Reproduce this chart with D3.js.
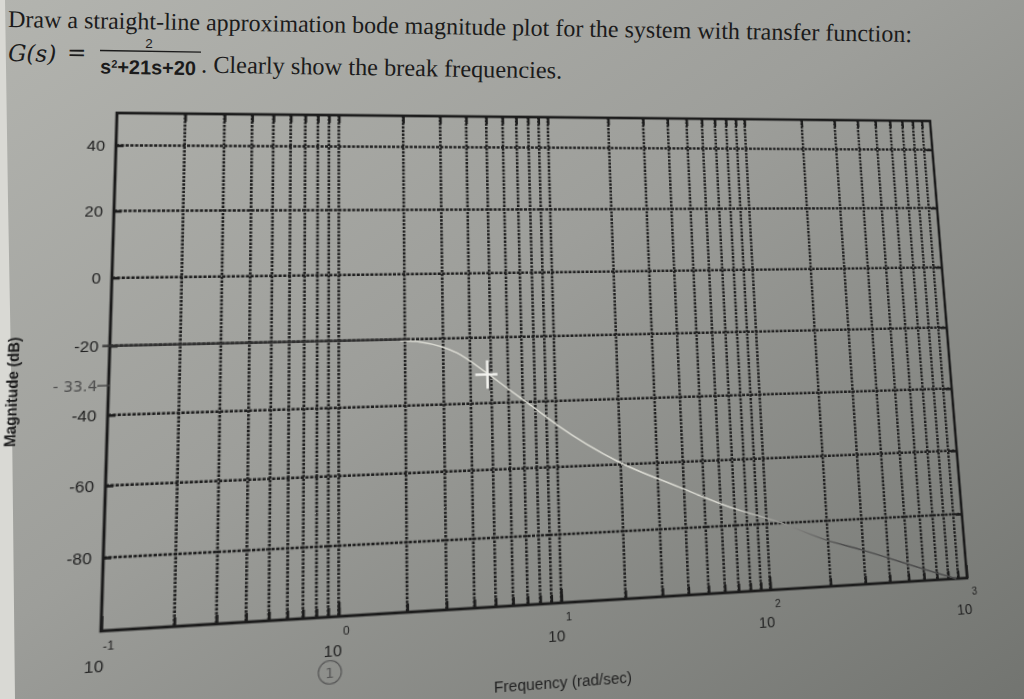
<!DOCTYPE html>
<html>
<head>
<meta charset="utf-8">
<script src="https://cdn.jsdelivr.net/npm/d3@7/dist/d3.min.js"></script>
<style>
  html, body { margin: 0; padding: 0; overflow: hidden; width: 1024px; height: 699px; background: #9b9c98; }
  #paper { position: absolute; left: 0; top: 0; }
  #sheet { position: absolute; left: 0; top: 0; width: 1024px; height: 699px; transform-origin: 0 0; }
  #sheet svg { overflow: visible; }
</style>
</head>
<body>
<svg id="paper" width="1024" height="699"></svg>
<div id="sheet"></div>
<script>
var freqDomain = [0.1, 1000];                 // rad/sec
var magDomain = [-100, 50];                   // dB
var decadeExponents = [-1, 0, 1, 2, 3];
var minorSteps = [2, 3, 4, 5, 6, 7, 8, 9, 10];
var magTicks = [40, 20, 0, -20, -40, -60, -80];

// faint trace of the exact magnitude curve
var traceFreq = [1.9, 2.35, 3.48, 4.78, 5.92, 7.8, 10.1, 19.6, 37.9, 66.5, 114, 196, 295, 403, 556, 880];
var traceMag  = [-20.4, -20.9, -24.5, -30.9, -35.6, -41.6, -47.3, -59.2, -67.6, -74.4, -79.6, -85.9, -89.5, -92.5, -95.7, -100];

// pencil work of the student
var sketchFreq = [0.093, 2.1];
var sketchMag  = [-20, -20];
var noteMag = -31.5;
var noteLabel = "- 33.4";
var cursorFreq = [4.8];
var cursorMag = [-31.3];

var titleLine1 = "Draw a straight-line approximation bode magnitude plot for the system with transfer function:";
var titleLine2 = ". Clearly show the break frequencies.";

// ---------- layout ----------
var box = { x: 110, y: 117, w: 846, h: 488 };          // flat axes box
// where the axes box corners sit in the photo (TL, TR, BR, BL)
var photoQuad = [[117, 113], [930, 121], [967, 578], [101, 631]];
var titleSlope = 0.0166;                                 // the sheet is a little tilted

var ink = '#1c1c1c';
var sansFont = '"Liberation Sans", Arial, sans-serif';
var serifFont = '"Liberation Serif", "Times New Roman", serif';

// ---------- background paper + title ----------
var paper = d3.select('#paper');
var defs = paper.append('defs');
var bg = defs.append('linearGradient').attr('id', 'bgGrad')
  .attr('x1', 0).attr('y1', 0).attr('x2', 1).attr('y2', 1);
bg.append('stop').attr('offset', 0).attr('stop-color', '#b3b4af');
bg.append('stop').attr('offset', 0.45).attr('stop-color', '#9d9e9a');
bg.append('stop').attr('offset', 1).attr('stop-color', '#727470');

paper.append('rect').attr('width', 1024).attr('height', 699).attr('fill', 'url(#bgGrad)');
paper.append('path')
  .attr('d', 'M0,0 L5,0 L8,200 L12,420 L15,699 L0,699 Z')
  .attr('fill', '#d9d9d4');

var title = paper.append('g').attr('fill', '#1b1b1b');
var angle = Math.atan(titleSlope) * 180 / Math.PI;

function measure(str, fs, family) {
  var t = title.append('text').attr('font-family', family).attr('font-size', fs).text(str);
  var w = t.node().getComputedTextLength();
  t.remove();
  return w;
}

// lays a sentence word by word along the tilted baseline
function slopedText(str, x0, y0, family, target) {
  var fs = 24 * target / measure(str, 24, family);
  var space = measure('a a', fs, family) - measure('aa', fs, family);
  var cx = x0;
  str.split(' ').forEach(function (word) {
    var cy = y0 + titleSlope * (cx - x0);
    title.append('text').attr('x', cx).attr('y', cy)
      .attr('transform', 'rotate(' + angle + ',' + cx + ',' + cy + ')')
      .attr('font-family', family).attr('font-size', fs).text(word);
    cx += measure(word, fs, family) + space;
  });
}

function tilted(sel, tx, ty) {
  return sel.attr('transform', 'rotate(' + angle + ',' + tx + ',' + ty + ')');
}

slopedText(titleLine1, 8, 27, serifFont, 904);

tilted(title.append('text').attr('x', 8).attr('y', 61), 8, 61)
  .attr('font-family', '"DejaVu Serif", serif').attr('font-style', 'italic')
  .attr('font-size', 23).text('G(s)');
tilted(title.append('text').attr('x', 67).attr('y', 60), 67, 60)
  .attr('font-family', '"DejaVu Serif", serif').attr('font-size', 23).text('=');

// fraction 2 / (s^2+21s+20)
title.append('text').attr('x', 149).attr('y', 47.5).attr('text-anchor', 'middle')
  .attr('font-family', sansFont).attr('font-size', 13.5).text('2');
tilted(title.append('line').attr('x1', 100).attr('x2', 201).attr('y1', 50.5).attr('y2', 50.5), 100, 50.5)
  .attr('stroke', '#1b1b1b').attr('stroke-width', 1.3);
var den = tilted(title.append('text').attr('x', 100).attr('y', 73.5), 100, 73.5)
  .attr('font-family', sansFont).attr('font-size', 15).attr('font-weight', 'bold');
den.append('tspan').text('s');
den.append('tspan').attr('dy', -6).attr('font-size', 11).text('2');
den.append('tspan').attr('dy', 6).text('+21s+20');
var dl = den.node().getComputedTextLength();
den.attr('font-size', 15 * 98 / dl);

slopedText(titleLine2, 201, 72.5, serifFont, 361);

// ---------- perspective of the photographed plot ----------
function squareToQuad(p) {
  var x0 = p[0][0], y0 = p[0][1], x1 = p[1][0], y1 = p[1][1];
  var x2 = p[2][0], y2 = p[2][1], x3 = p[3][0], y3 = p[3][1];
  var dx1 = x1 - x2, dy1 = y1 - y2, dx2 = x3 - x2, dy2 = y3 - y2;
  var dx3 = x0 - x1 + x2 - x3, dy3 = y0 - y1 + y2 - y3;
  var dd = dx1 * dy2 - dx2 * dy1;
  var g = (dx3 * dy2 - dx2 * dy3) / dd;
  var h = (dx1 * dy3 - dx3 * dy1) / dd;
  return [[x1 - x0 + g * x1, x3 - x0 + h * x3, x0],
          [y1 - y0 + g * y1, y3 - y0 + h * y3, y0],
          [g, h, 1]];
}
function mul(A, B) {
  var C = [[0, 0, 0], [0, 0, 0], [0, 0, 0]];
  for (var i = 0; i < 3; i++)
    for (var j = 0; j < 3; j++)
      for (var k = 0; k < 3; k++) C[i][j] += A[i][k] * B[k][j];
  return C;
}
var toUnit = [[1 / box.w, 0, -box.x / box.w], [0, 1 / box.h, -box.y / box.h], [0, 0, 1]];
var M = mul(squareToQuad(photoQuad), toUnit);
d3.select('#sheet').style('transform', 'matrix3d(' + [
  M[0][0], M[1][0], 0, M[2][0],
  M[0][1], M[1][1], 0, M[2][1],
  0, 0, 1, 0,
  M[0][2], M[1][2], 0, M[2][2]].join(',') + ')');

// ---------- the plot (flat coordinates) ----------
var svg = d3.select('#sheet').append('svg').attr('width', 1024).attr('height', 699);

var x = d3.scaleLog().domain(freqDomain).range([box.x, box.x + box.w]);
var y = d3.scaleLinear().domain(magDomain).range([box.y + box.h, box.y]);

var gridFreq = [];
decadeExponents.slice(0, -1).forEach(function (e) {
  minorSteps.forEach(function (k) { gridFreq.push(k * Math.pow(10, e)); });
});
gridFreq = gridFreq.filter(function (f) { return f < freqDomain[1]; });
var majorFreq = decadeExponents.map(function (e) { return Math.pow(10, e); });

var grid = svg.append('g').attr('stroke', '#1f1f1f').attr('fill', 'none');
grid.selectAll('.vgrid').data(gridFreq).enter().append('line')
  .attr('class', 'vgrid')
  .attr('x1', function (d) { return x(d); }).attr('x2', function (d) { return x(d); })
  .attr('y1', box.y).attr('y2', box.y + box.h)
  .attr('stroke-width', 2.6).attr('stroke-dasharray', '2.4,1.3');
grid.selectAll('.hgrid').data(magTicks).enter().append('line')
  .attr('class', 'hgrid')
  .attr('x1', box.x).attr('x2', box.x + box.w)
  .attr('y1', function (d) { return y(d); }).attr('y2', function (d) { return y(d); })
  .attr('stroke-width', 2.5).attr('stroke-dasharray', '3,1.4');

// inward ticks on all four sides
function styleAxis(g) {
  g.select('.domain').remove();
  g.selectAll('.tick line').attr('stroke', ink).attr('stroke-width', 2.5);
  g.selectAll('.tick text').attr('fill', '#222').attr('font-family', sansFont).attr('font-size', 15);
}
svg.append('g').attr('transform', 'translate(0,' + (box.y + box.h) + ')')
  .call(d3.axisBottom(x).tickValues(gridFreq).tickSizeInner(-8).tickSizeOuter(0).tickFormat(''))
  .call(styleAxis);
svg.append('g').attr('transform', 'translate(0,' + (box.y + box.h) + ')')
  .call(d3.axisBottom(x).tickValues(majorFreq).tickSizeInner(-13).tickSizeOuter(0).tickFormat(''))
  .call(styleAxis);
svg.append('g').attr('transform', 'translate(0,' + box.y + ')')
  .call(d3.axisTop(x).tickValues(gridFreq).tickSizeInner(-8).tickSizeOuter(0).tickFormat(''))
  .call(styleAxis);
svg.append('g').attr('transform', 'translate(' + box.x + ',0)')
  .call(d3.axisLeft(y).tickValues(magTicks).tickSizeInner(-7).tickSizeOuter(0).tickPadding(10)
    .tickFormat(function (d) { return String(d); }))
  .call(styleAxis);
svg.append('g').attr('transform', 'translate(' + (box.x + box.w) + ',0)')
  .call(d3.axisRight(y).tickValues(magTicks).tickSizeInner(-7).tickSizeOuter(0).tickFormat(''))
  .call(styleAxis);

svg.append('rect').attr('x', box.x).attr('y', box.y).attr('width', box.w).attr('height', box.h)
  .attr('fill', 'none').attr('stroke', ink).attr('stroke-width', 2.8);

// decade labels, MATLAB style 10 with raised exponent
var xLab = svg.append('g').attr('fill', '#222').attr('font-family', sansFont);
xLab.selectAll('.base').data(decadeExponents).enter().append('text')
  .attr('class', 'base').attr('text-anchor', 'end')
  .attr('x', function (d) { return x(Math.pow(10, d)) + 3; })
  .attr('y', box.y + box.h + 36)
  .attr('font-size', 15).text('10');
xLab.selectAll('.expo').data(decadeExponents).enter().append('text')
  .attr('class', 'expo')
  .attr('x', function (d) { return x(Math.pow(10, d)) + (d < 0 ? 2 : 4); })
  .attr('y', box.y + box.h + 17)
  .attr('font-size', 11).text(function (d) { return String(d); });

svg.append('text').attr('x', box.x + box.w / 2).attr('y', box.y + box.h + 79)
  .attr('text-anchor', 'middle').attr('font-family', sansFont).attr('font-size', 15)
  .attr('fill', '#222').text('Frequency (rad/sec)');
svg.append('text')
  .attr('transform', 'translate(' + (box.x - 80) + ',' + (box.y + box.h * 0.55) + ') rotate(-90)')
  .attr('text-anchor', 'middle').attr('font-family', sansFont).attr('font-size', 14)
  .attr('font-weight', 'bold').attr('fill', '#1e1e1e').text('Magnitude (dB)');

// faint exact curve, light at first and greyer towards the bottom right
var traceGrad = svg.append('defs').append('linearGradient').attr('id', 'traceGrad')
  .attr('gradientUnits', 'userSpaceOnUse')
  .attr('x1', x(60)).attr('x2', x(230)).attr('y1', 0).attr('y2', 0);
traceGrad.append('stop').attr('offset', 0).attr('stop-color', '#d9d9d1');
traceGrad.append('stop').attr('offset', 1).attr('stop-color', '#4a4a4a');

var tracePts = traceFreq.map(function (f, i) { return [f, traceMag[i]]; });
var line = d3.line()
  .x(function (d) { return x(d[0]); })
  .y(function (d) { return y(d[1]); })
  .curve(d3.curveMonotoneX);
svg.append('path').datum(tracePts).attr('d', line)
  .attr('fill', 'none').attr('stroke', 'url(#traceGrad)').attr('stroke-width', 1.5);

// pencil straight line at the DC level
var sketchPts = sketchFreq.map(function (f, i) { return [f, sketchMag[i]]; });
svg.append('path').datum(sketchPts).attr('d', d3.line().x(function (d) { return x(d[0]); }).y(function (d) { return y(d[1]); }))
  .attr('fill', 'none').attr('stroke', '#333333').attr('stroke-width', 2.6).attr('stroke-opacity', 0.85);

// pencil note on the axis
svg.append('line').attr('x1', box.x - 10).attr('x2', box.x + 1)
  .attr('y1', y(noteMag)).attr('y2', y(noteMag))
  .attr('stroke', '#444').attr('stroke-width', 1.4);
svg.append('text').attr('x', box.x - 10).attr('y', y(noteMag) + 5).attr('text-anchor', 'end')
  .attr('font-family', '"DejaVu Sans", sans-serif').attr('font-size', 13.5)
  .attr('fill', '#4d4d4d').text(noteLabel);

// circled mark under 10^0
var mark = svg.append('g').attr('transform', 'translate(' + (x(1) - 8) + ',' + (box.y + box.h + 50) + ')');
mark.append('circle').attr('r', 10.5).attr('fill', 'none').attr('stroke', '#555').attr('stroke-width', 1.1);
mark.append('text').attr('y', 5).attr('text-anchor', 'middle')
  .attr('font-family', '"DejaVu Sans", sans-serif').attr('font-size', 13).attr('fill', '#555').text('1');

// screen cursor left on the curve
var cur = svg.selectAll('.cursor').data(cursorFreq).enter().append('g').attr('class', 'cursor')
  .attr('transform', function (d, i) { return 'translate(' + x(d) + ',' + y(cursorMag[i]) + ')'; });
cur.append('line').attr('x1', 2).attr('x2', 2).attr('y1', -12).attr('y2', 16)
  .attr('stroke', '#555').attr('stroke-width', 1.6);
cur.append('line').attr('x1', 0).attr('x2', 0).attr('y1', -14).attr('y2', 14)
  .attr('stroke', '#f2f2ee').attr('stroke-width', 2.4);
cur.append('line').attr('x1', -12).attr('x2', 10).attr('y1', 0).attr('y2', 0)
  .attr('stroke', '#f2f2ee').attr('stroke-width', 2.4);
</script>
</body>
</html>
